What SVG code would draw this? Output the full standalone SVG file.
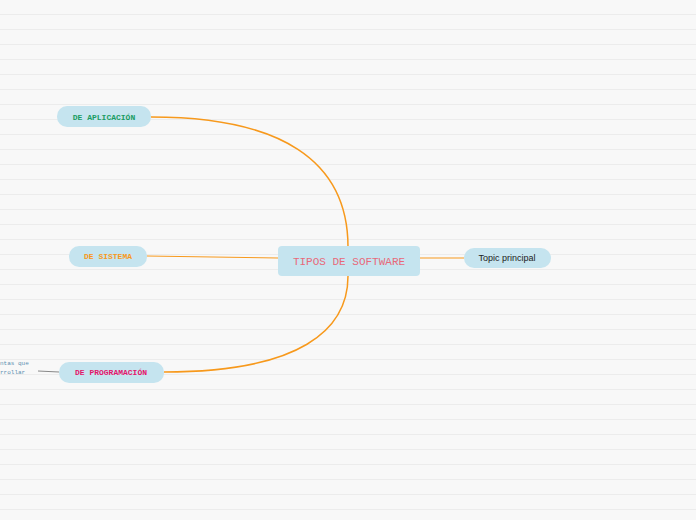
<svg xmlns="http://www.w3.org/2000/svg" width="696" height="520" viewBox="0 0 696 520">
<defs>
<pattern id="lines" width="696" height="15" patternUnits="userSpaceOnUse"><rect width="696" height="15" fill="#f8f8f8"/><line x1="0" y1="14.5" x2="696" y2="14.5" stroke="#ececec" stroke-width="1"/></pattern>
<style>
.n{fill:#c5e4ef}
.m{font-family:"Liberation Mono",monospace;font-weight:bold;font-size:8px;text-anchor:middle}
.c{fill:none;stroke:#f7991c}
</style>
</defs>
<rect width="696" height="520" fill="url(#lines)"/>
<g id="connectors">
<path class="c" stroke-width="1.5" d="M348,247 C348,160 280,117 151,117"/>
<path class="c" stroke-width="1.5" d="M348,276 C348,330 300,372 164,372"/>
<path class="c" stroke-width="1" d="M278,258 L147,256"/>
<path class="c" stroke-width="1" d="M420,258 L464,258"/>
<path fill="none" stroke="#888" stroke-width="1" d="M38,371 L59,372"/>
</g>
<g id="center"><rect class="n" x="278" y="246" width="142" height="30" rx="4"/><text x="349" y="265" font-family="Liberation Mono,monospace" font-size="11" fill="#e8697a" text-anchor="middle">TIPOS DE SOFTWARE</text></g>
<g id="topic"><rect class="n" x="464" y="248" width="87" height="20" rx="10"/><text x="507" y="261" font-family="Liberation Sans,Arial,sans-serif" font-size="9" fill="#222" text-anchor="middle">Topic principal</text></g>
<g id="aplicacion"><rect class="n" x="57" y="106" width="94" height="21" rx="10"/><text class="m" x="104" y="120" fill="#1a9c63">DE APLICACIÓN</text></g>
<g id="sistema"><rect class="n" x="69" y="246" width="78" height="21" rx="10"/><text class="m" x="108" y="259" fill="#f7991c">DE SISTEMA</text></g>
<g id="programacion"><rect class="n" x="59" y="362" width="105" height="21" rx="10"/><text class="m" x="111" y="375" fill="#e3156b">DE PROGRAMACIÓN</text></g>
<g id="note"><text font-family="Liberation Mono,monospace" font-size="6" fill="#5b8fb0"><tspan x="0" y="365">ntas que</tspan><tspan x="0" y="374">rrollar</tspan></text></g>
</svg>
